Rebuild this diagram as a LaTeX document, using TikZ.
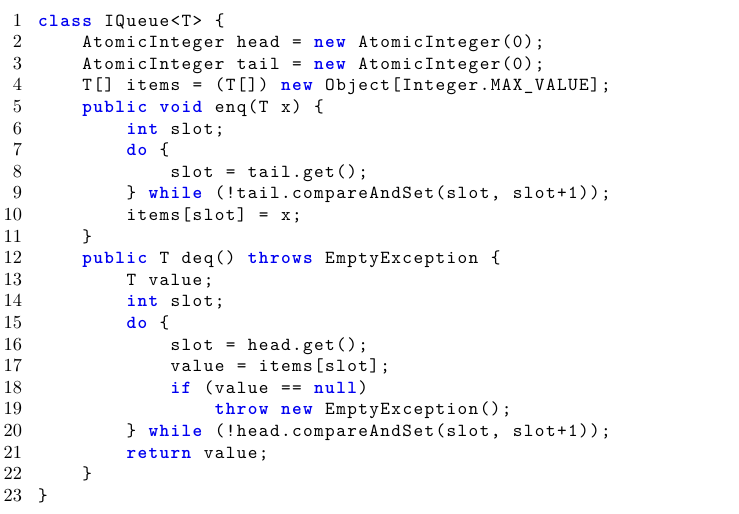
\documentclass[tikz,border=0pt]{standalone}
\usetikzlibrary{positioning}
\definecolor{kwblue}{RGB}{0,0,240}
\ExplSyntaxOn
\cs_new_protected:Npn \my_codechar:n #1
  {
    \str_case:nnF {#1}
      {
        { ~ } { \hbox_to_wd:nn {6pt} { } }
        { @ } { \hbox_to_wd:nn {6pt} { \hss \c_left_brace_str \hss } }
        { ? } { \hbox_to_wd:nn {6pt} { \hss \c_right_brace_str \hss } }
      }
      { \hbox_to_wd:nn {6pt} { \hss #1 \hss } }
  }
\NewDocumentCommand \ct { m } { \str_map_inline:nn {#1} { \my_codechar:n {##1} } }
\NewDocumentCommand \kw { m } { { \color{kwblue} \bfseries \ct{#1} } }
\ExplSyntaxOff
\tikzset{
  codeline/.style={anchor=base west, inner sep=0pt, outer sep=0pt, font=\ttfamily\fontsize{10pt}{12pt}\selectfont},
  lineno/.style={anchor=base east, inner sep=0pt, outer sep=0pt, font=\rmfamily\fontsize{10pt}{12pt}\selectfont},
}
\begin{document}
\begin{tikzpicture}[x=0.5435pt,y=-0.5435pt]
\useasboundingbox (0,0) rectangle (739,513);
\def\pitch{11.04}
\def\xz{37.5}
\def\yz{26}
\def\dy{21.6}
\foreach \i in {1,...,23}{
  \node[lineno] (n\i) at (22,{\yz+(\i-1)*\dy}) {\i};
}
% code lines: (indent chars, line index)
\node[codeline] (l1) at ({\xz+0*\pitch},{\yz+0*\dy}) {\kw{class}\ct{ IQueue<T> @}};
\node[codeline] (l2) at ({\xz+4*\pitch},{\yz+1*\dy}) {\ct{AtomicInteger head = }\kw{new}\ct{ AtomicInteger(0);}};
\node[codeline] (l3) at ({\xz+4*\pitch},{\yz+2*\dy}) {\ct{AtomicInteger tail = }\kw{new}\ct{ AtomicInteger(0);}};
\node[codeline] (l4) at ({\xz+4*\pitch},{\yz+3*\dy}) {\ct{T[] items = (T[]) }\kw{new}\ct{ Object[Integer.MAX_VALUE];}};
\node[codeline] (l5) at ({\xz+4*\pitch},{\yz+4*\dy}) {\kw{public void}\ct{ enq(T x) @}};
\node[codeline] (l6) at ({\xz+8*\pitch},{\yz+5*\dy}) {\kw{int}\ct{ slot;}};
\node[codeline] (l7) at ({\xz+8*\pitch},{\yz+6*\dy}) {\kw{do}\ct{ @}};
\node[codeline] (l8) at ({\xz+12*\pitch},{\yz+7*\dy}) {\ct{slot = tail.get();}};
\node[codeline] (l9) at ({\xz+8*\pitch},{\yz+8*\dy}) {\ct{? }\kw{while}\ct{ (!tail.compareAndSet(slot, slot+1));}};
\node[codeline] (l10) at ({\xz+8*\pitch},{\yz+9*\dy}) {\ct{items[slot] = x;}};
\node[codeline] (l11) at ({\xz+4*\pitch},{\yz+10*\dy}) {\ct{?}};
\node[codeline] (l12) at ({\xz+4*\pitch},{\yz+11*\dy}) {\kw{public}\ct{ T deq() }\kw{throws}\ct{ EmptyException @}};
\node[codeline] (l13) at ({\xz+8*\pitch},{\yz+12*\dy}) {\ct{T value;}};
\node[codeline] (l14) at ({\xz+8*\pitch},{\yz+13*\dy}) {\kw{int}\ct{ slot;}};
\node[codeline] (l15) at ({\xz+8*\pitch},{\yz+14*\dy}) {\kw{do}\ct{ @}};
\node[codeline] (l16) at ({\xz+12*\pitch},{\yz+15*\dy}) {\ct{slot = head.get();}};
\node[codeline] (l17) at ({\xz+12*\pitch},{\yz+16*\dy}) {\ct{value = items[slot];}};
\node[codeline] (l18) at ({\xz+12*\pitch},{\yz+17*\dy}) {\kw{if}\ct{ (value == }\kw{null}\ct{)}};
\node[codeline] (l19) at ({\xz+16*\pitch},{\yz+18*\dy}) {\kw{throw new}\ct{ EmptyException();}};
\node[codeline] (l20) at ({\xz+8*\pitch},{\yz+19*\dy}) {\ct{? }\kw{while}\ct{ (!head.compareAndSet(slot, slot+1));}};
\node[codeline] (l21) at ({\xz+8*\pitch},{\yz+20*\dy}) {\kw{return}\ct{ value;}};
\node[codeline] (l22) at ({\xz+4*\pitch},{\yz+21*\dy}) {\ct{?}};
\node[codeline] (l23) at ({\xz+0*\pitch},{\yz+22*\dy}) {\ct{?}};
\end{tikzpicture}
\end{document}
